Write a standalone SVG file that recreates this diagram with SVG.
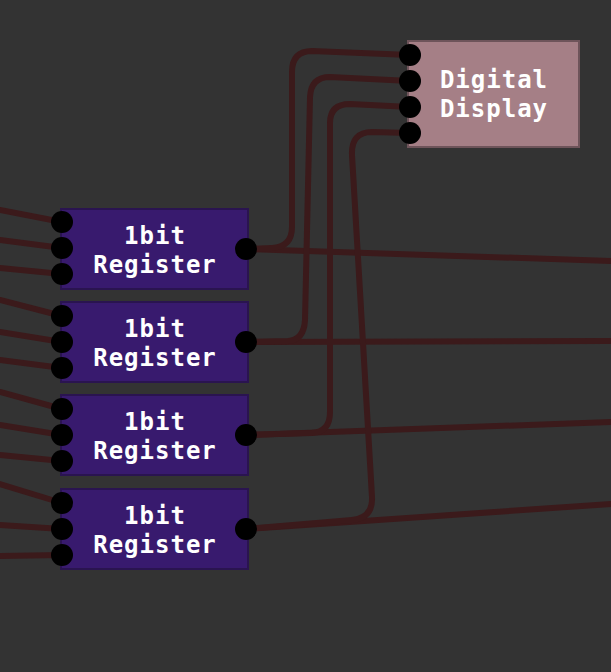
<svg xmlns="http://www.w3.org/2000/svg" width="611" height="672" viewBox="0 0 611 672">
<style>
.w{fill:none;stroke:#3b1a1b;stroke-width:6;stroke-linecap:round}
.reg{fill:#381a6e;stroke:#2a1450;stroke-width:2}
.pin{fill:#000}
.t{font-family:"DejaVu Sans Mono",monospace;font-weight:bold;font-size:24px;fill:#fff;text-anchor:middle;letter-spacing:1px}
</style>
<rect width="611" height="672" fill="#333"/>
<g id="connectors">
<path class="w" d="M0 210L62 222M0 240L62 248M0 268L62 274M0 300L62 316M0 332L62 342M0 360L62 368M0 392L62 409M0 425L62 435M0 455L62 461M0 484L62 503M0 525L62 529M0 556L62 555"/>
<path class="w" d="M246 249L611 261M246 342L611 341M246 435L611 422M246 529L611 504"/>
<path class="w" d="M246 249L272 248Q292 247 292 227L292 72Q292 51 312 51L410 55"/>
<path class="w" d="M246 342L288 341Q304 340 305 320L310 97Q311 77 330 77L410 81"/>
<path class="w" d="M246 435L312 433Q330 432 330 412L330 123Q330 104 350 104L410 107"/>
<path class="w" d="M246 529L352 520Q373 518 372 497L352 155Q351 132 372 132L410 133"/>
</g>
<g id="display"><rect x="408" y="41" width="171" height="106" fill="#a57f86" stroke="#6e545a" stroke-width="2"/>
<text class="t" x="494" y="88">Digital</text><text class="t" x="494" y="117">Display</text>
<circle class="pin" cx="410" cy="55" r="11"/><circle class="pin" cx="410" cy="81" r="11"/><circle class="pin" cx="410" cy="107" r="11"/><circle class="pin" cx="410" cy="133" r="11"/></g>
<g id="reg1"><rect class="reg" x="61" y="209" width="187" height="80"/><text class="t" x="155" y="244">1bit</text><text class="t" x="155" y="273">Register</text>
<circle class="pin" cx="62" cy="222" r="11"/><circle class="pin" cx="62" cy="248" r="11"/><circle class="pin" cx="62" cy="274" r="11"/><circle class="pin" cx="246" cy="249" r="11"/></g>
<g id="reg2"><rect class="reg" x="61" y="302" width="187" height="80"/><text class="t" x="155" y="337">1bit</text><text class="t" x="155" y="366">Register</text>
<circle class="pin" cx="62" cy="316" r="11"/><circle class="pin" cx="62" cy="342" r="11"/><circle class="pin" cx="62" cy="368" r="11"/><circle class="pin" cx="246" cy="342" r="11"/></g>
<g id="reg3"><rect class="reg" x="61" y="395" width="187" height="80"/><text class="t" x="155" y="430">1bit</text><text class="t" x="155" y="459">Register</text>
<circle class="pin" cx="62" cy="409" r="11"/><circle class="pin" cx="62" cy="435" r="11"/><circle class="pin" cx="62" cy="461" r="11"/><circle class="pin" cx="246" cy="435" r="11"/></g>
<g id="reg4"><rect class="reg" x="61" y="489" width="187" height="80"/><text class="t" x="155" y="524">1bit</text><text class="t" x="155" y="553">Register</text>
<circle class="pin" cx="62" cy="503" r="11"/><circle class="pin" cx="62" cy="529" r="11"/><circle class="pin" cx="62" cy="555" r="11"/><circle class="pin" cx="246" cy="529" r="11"/></g>
</svg>
